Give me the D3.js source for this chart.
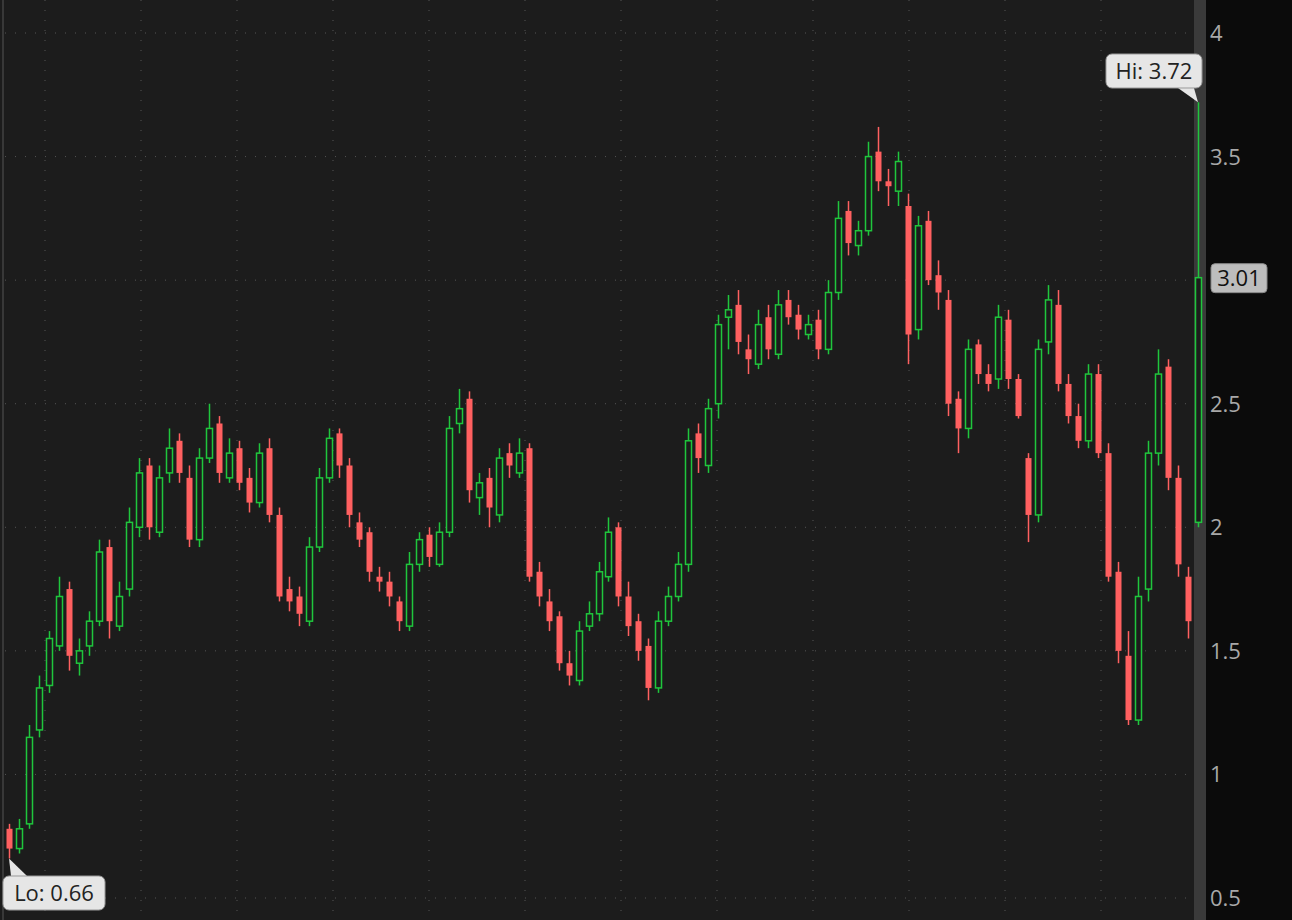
<!DOCTYPE html>
<html><head><meta charset="utf-8">
<script src="https://cdn.jsdelivr.net/npm/d3@7"></script>
<style>body{margin:0;background:#0b0b0b;font-family:"Open Sans",sans-serif}</style>
</head><body><div id="chart"></div>
<script>
var opens = [0.78,0.70,0.80,1.18,1.36,1.52,1.75,1.45,1.52,1.62,1.92,1.60,1.75,2.00,2.25,1.98,2.22,2.35,2.20,1.95,2.28,2.42,2.20,2.32,2.20,2.10,2.32,2.05,1.75,1.72,1.62,1.92,2.20,2.38,2.25,2.02,1.98,1.80,1.78,1.70,1.60,1.85,1.97,1.85,1.98,2.42,2.52,2.12,2.20,2.05,2.30,2.22,2.32,1.82,1.70,1.64,1.45,1.38,1.60,1.65,1.80,2.00,1.72,1.62,1.52,1.35,1.62,1.72,1.85,2.38,2.25,2.50,2.85,2.90,2.72,2.66,2.85,2.70,2.92,2.86,2.78,2.84,2.72,2.95,3.28,3.14,3.20,3.52,3.40,3.36,3.30,2.80,3.24,3.02,2.92,2.52,2.40,2.74,2.62,2.60,2.84,2.60,2.28,2.05,2.75,2.90,2.58,2.45,2.35,2.62,2.30,1.82,1.48,1.22,1.75,2.30,2.65,2.20,1.80,2.02]
var closes = [0.70,0.78,1.15,1.35,1.55,1.72,1.48,1.50,1.62,1.90,1.62,1.72,2.02,2.22,2.00,2.20,2.32,2.22,1.95,2.28,2.40,2.22,2.30,2.18,2.10,2.30,2.05,1.72,1.70,1.65,1.92,2.20,2.36,2.25,2.05,1.95,1.82,1.78,1.72,1.62,1.85,1.95,1.88,1.98,2.40,2.48,2.15,2.18,2.08,2.28,2.25,2.30,1.80,1.72,1.62,1.45,1.40,1.58,1.65,1.82,1.98,1.72,1.60,1.50,1.35,1.62,1.72,1.85,2.35,2.28,2.48,2.82,2.88,2.75,2.68,2.82,2.72,2.90,2.85,2.80,2.82,2.72,2.95,3.25,3.15,3.20,3.50,3.40,3.38,3.48,2.78,3.22,3.00,2.95,2.50,2.40,2.72,2.62,2.58,2.85,2.60,2.45,2.05,2.72,2.92,2.58,2.45,2.35,2.62,2.30,1.80,1.50,1.22,1.72,2.30,2.62,2.20,1.85,1.62,3.01]
var highs = [0.80,0.82,1.20,1.40,1.58,1.80,1.78,1.55,1.66,1.95,1.95,1.78,2.08,2.28,2.28,2.25,2.40,2.38,2.25,2.32,2.50,2.45,2.36,2.35,2.24,2.34,2.36,2.08,1.80,1.76,1.96,2.24,2.40,2.40,2.28,2.06,2.00,1.84,1.82,1.72,1.90,1.98,2.00,2.02,2.45,2.56,2.55,2.22,2.24,2.32,2.34,2.36,2.34,1.86,1.75,1.66,1.50,1.62,1.70,1.86,2.04,2.02,1.78,1.65,1.55,1.66,1.76,1.90,2.40,2.42,2.52,2.86,2.94,2.96,2.78,2.88,2.90,2.96,2.96,2.90,2.86,2.88,3.00,3.32,3.32,3.24,3.56,3.62,3.45,3.52,3.35,3.26,3.28,3.08,2.96,2.55,2.76,2.76,2.66,2.90,2.88,2.62,2.30,2.76,2.98,2.96,2.62,2.50,2.66,2.66,2.34,1.86,1.58,1.80,2.35,2.72,2.68,2.25,1.84,3.72]
var lows = [0.66,0.68,0.78,1.15,1.33,1.50,1.42,1.40,1.48,1.60,1.55,1.58,1.72,1.96,1.95,1.96,2.18,2.18,1.92,1.92,2.26,2.18,2.18,2.15,2.06,2.08,2.02,1.70,1.66,1.60,1.60,1.90,2.18,2.20,2.00,1.92,1.78,1.74,1.68,1.58,1.58,1.82,1.84,1.84,1.96,2.38,2.10,2.05,2.00,2.02,2.20,2.20,1.78,1.68,1.58,1.42,1.36,1.36,1.58,1.62,1.78,1.68,1.56,1.46,1.30,1.33,1.60,1.70,1.82,2.22,2.22,2.44,2.72,2.70,2.62,2.64,2.68,2.68,2.82,2.76,2.76,2.68,2.70,2.92,3.10,3.10,3.18,3.36,3.30,3.30,2.66,2.76,2.98,2.88,2.45,2.30,2.36,2.58,2.55,2.56,2.56,2.44,1.94,2.02,2.70,2.55,2.42,2.32,2.32,2.28,1.78,1.45,1.20,1.20,1.70,2.25,2.15,1.80,1.55,2.00]
var yTicks = [0.5, 1, 1.5, 2, 2.5, 3, 3.5, 4]
var lastPrice = 3.01

var W = 1292, H = 920, plotRight = 1194

var svg = d3.select("#chart").append("svg").attr("width", W).attr("height", H)

svg.append("rect").attr("width", plotRight).attr("height", H).attr("fill", "#1c1c1c")
svg.append("rect").attr("x", plotRight).attr("width", 12).attr("height", H).attr("fill", "#3a3a3a")
svg.append("line").attr("x1", 3).attr("x2", 3).attr("y1", 0).attr("y2", H).attr("stroke", "#555")

var n = d3.min([opens.length, closes.length, highs.length, lows.length])
var data = d3.range(n).map(function(i) {
  return {i: i, o: opens[i], c: closes[i], h: highs[i], l: lows[i]}
})

var x = d3.scaleLinear().domain([0, n - 1]).range([9, 1198])
var y = d3.scaleLinear().domain([0.5, 4]).range([898, 33])

// grid
svg.selectAll(".hg").data(yTicks).enter().append("line")
  .attr("x1", 5).attr("x2", plotRight).attr("y1", d => y(d)).attr("y2", d => y(d))
  .attr("stroke", "#555").attr("stroke-dasharray", "1,9")
svg.selectAll(".vg").data(d3.range(45, plotRight, 96)).enter().append("line")
  .attr("x1", d => d).attr("x2", d => d).attr("y1", 0).attr("y2", H)
  .attr("stroke", "#555").attr("stroke-dasharray", "1,9")

var bw = 6
var g = svg.append("g")
data.forEach(function(d) {
  var up = d.c >= d.o
  var col = up ? "#1fc63c" : "#ff6060"
  var cx = Math.round(x(d.i)) + 0.5
  g.append("line").attr("x1", cx).attr("x2", cx).attr("y1", y(d.h)).attr("y2", y(d.l))
    .attr("stroke", col).attr("stroke-width", 1.5)
  var top = y(Math.max(d.o, d.c)), bot = y(Math.min(d.o, d.c))
  g.append("rect").attr("x", cx - bw / 2).attr("y", top)
    .attr("width", bw).attr("height", Math.max(1, bot - top))
    .attr("fill", up ? "#1c1c1c" : col).attr("stroke", col).attr("stroke-width", up ? 1.5 : 0)
})

// axis labels (the one hidden by the last price tag is skipped)
svg.selectAll(".yl").data(yTicks.filter(d => Math.abs(y(d) - y(lastPrice)) > 24)).enter().append("text")
  .attr("x", 1210).attr("y", d => y(d) + 8)
  .attr("fill", "#a8a8a8").style("font-size", "22px")
  .text(d => d)

// last price tag
svg.append("rect").attr("x", 1211).attr("y", y(lastPrice) - 14).attr("width", 56).attr("height", 29)
  .attr("rx", 4).attr("fill", "#bdbdbd").attr("stroke", "#888")
svg.append("text").attr("x", 1239).attr("y", y(lastPrice) + 8).attr("text-anchor", "middle")
  .attr("fill", "#111").style("font-size", "22px").text(lastPrice.toFixed(2))

function callout(bx, by, bwid, txt, tipX, tipY, tipFromTop) {
  var cg = svg.append("g")
  var baseY = tipFromTop ? by : by + 34
  cg.append("path").attr("d", "M" + (tipX < bx + bwid / 2 ? bx + 8 : bx + bwid - 24) + "," + baseY +
      "L" + tipX + "," + tipY + "L" + (tipX < bx + bwid / 2 ? bx + 24 : bx + bwid - 8) + "," + baseY + "Z")
    .attr("fill", "#e6e6e6")
  cg.append("rect").attr("x", bx).attr("y", by).attr("width", bwid).attr("height", 34).attr("rx", 6)
    .attr("fill", "#e6e6e6").attr("stroke", "#999")
  cg.append("text").attr("x", bx + bwid / 2).attr("y", by + 25).attr("text-anchor", "middle")
    .attr("fill", "#222").style("font-size", "22px").text(txt)
}
var hiI = d3.maxIndex(data, d => d.h), loI = d3.minIndex(data, d => d.l)
callout(1106, 54, 96, "Hi: " + data[hiI].h.toFixed(2), x(hiI), y(data[hiI].h), false)
callout(3, 876, 102, "Lo: " + data[loI].l.toFixed(2), x(loI), y(data[loI].l), true)
</script></body></html>
